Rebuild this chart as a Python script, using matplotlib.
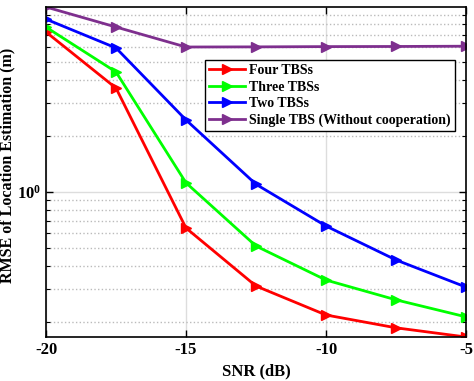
import matplotlib
matplotlib.use('Agg')
import matplotlib.pyplot as plt
from matplotlib.ticker import LogLocator, NullFormatter, FixedLocator

# SNR points (dB)
snr = [-20, -17.5, -15, -12.5, -10, -7.5, -5]

# RMSE values
four_tbs   = [7.25, 3.62, 0.64, 0.312, 0.218, 0.186, 0.166]
three_tbs  = [7.7, 4.42, 1.12, 0.512, 0.336, 0.263, 0.213]
two_tbs    = [8.5, 5.95, 2.44, 1.10, 0.656, 0.431, 0.308]
single_tbs = [9.88, 7.71, 6.02, 6.03, 6.05, 6.06, 6.08]

labels = ['Four TBSs', 'Three TBSs', 'Two TBSs', 'Single TBS (Without cooperation)']
colors = ['#ff0000', '#00ff00', '#0000ff', '#7e2f8e']

plt.rcParams['font.family'] = ['Liberation Serif', 'DejaVu Serif']
plt.rcParams['font.weight'] = 'bold'
plt.rcParams['mathtext.fontset'] = 'stix'

fig = plt.figure(figsize=(4.74, 3.81), dpi=100)
ax = fig.add_axes([46/474, 1 - 337/381, 420/474, 330/381])

for ys, lab, c in zip([four_tbs, three_tbs, two_tbs, single_tbs], labels, colors):
	ax.plot(snr, ys, color=c, linewidth=2, marker='>', markersize=7.5,
			markerfacecolor=c, markeredgecolor=c, label=lab)

ax.set_yscale('log')
ax.set_xlim(-20, -5)
ax.set_ylim(min(four_tbs), max(single_tbs))
ax.xaxis.set_major_locator(FixedLocator([-20, -15, -10, -5]))
ax.set_xticklabels(['-20', '-15', '-10', '-5'])
ax.yaxis.set_major_locator(LogLocator(base=10, numticks=5))
ax.yaxis.set_minor_locator(LogLocator(base=10, subs=range(2, 10), numticks=10))
ax.yaxis.set_minor_formatter(NullFormatter())

ax.grid(True, which='major', color='#dddddd', linestyle='-', linewidth=1)
ax.grid(True, which='minor', axis='y', color='#bbbbbb', linestyle=':', linewidth=1)
ax.set_axisbelow(True)

ax.tick_params(which='both', direction='in', top=True, right=True, labelsize=12)
ax.tick_params(which='major', length=5, width=1)
ax.tick_params(which='minor', length=3, width=0.8)
for s in ax.spines.values():
	s.set_linewidth(1.2)

ax.set_xlabel('SNR (dB)', fontsize=12, fontweight='bold')
ax.set_ylabel('RMSE of Location Estimation (m)', fontsize=11.5, fontweight='bold')
ax.yaxis.set_label_coords(-0.074, 0.52)

leg = ax.legend(loc='upper right', fontsize=10, fancybox=False, framealpha=1,
				edgecolor='black', handlelength=2.6, borderpad=0.3,
				labelspacing=0.25, handletextpad=0.3, borderaxespad=0)
leg.get_frame().set_linewidth(1)
# place the legend box at its spot in the reference
leg.set_bbox_to_anchor((455/474, 1 - 60/381), transform=fig.transFigure)

fig.savefig('out.png', dpi=100)
